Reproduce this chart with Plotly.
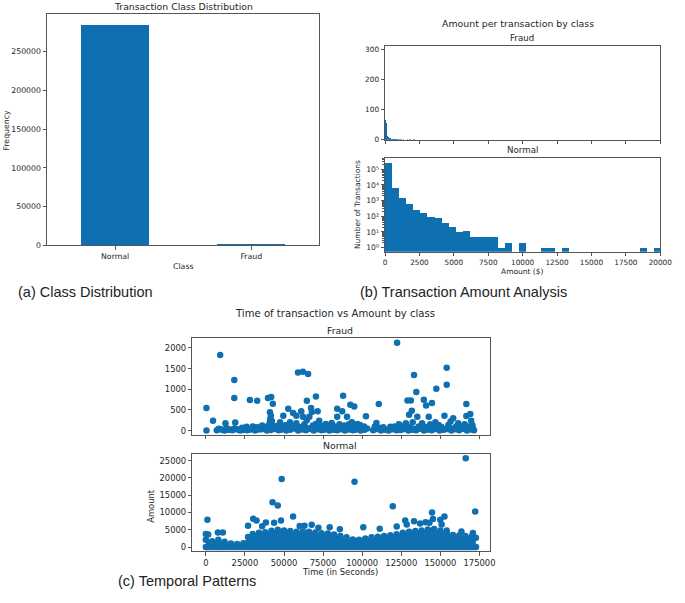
import numpy as np
import plotly.graph_objects as go

W, H = 685, 603
BLUE = "#0e6fb1"
AX = "#555555"
TXT = "#262626"
FONT = "DejaVu Sans"
CAP = "Liberation Sans"

# ---------------- data ----------------
class_labels = ["Normal", "Fraud"]
class_counts = [284315, 492]

normal_amount_max = 25691.16
fraud_amount_max = 2125.87
n_bins = 50
normal_hist_counts = [280000, 6300, 1600, 670, 250, 165, 100, 75, 36, 23,
                      11, 12, 5, 5, 5, 5, 1, 2, 0, 2,
                      0, 0, 1, 1, 0, 1, 0, 0, 0, 0,
                      0, 0, 0, 0, 0, 0, 1, 0, 1, 0,
                      0, 0, 0, 0, 0, 0, 0, 0, 0, 1]
fraud_hist_counts = [66, 58, 18, 15, 12, 10, 8, 7, 6, 5,
                     4, 4, 3, 3, 2, 2, 2, 1, 1, 1,
                     1, 0, 1, 0, 1, 0, 0, 1, 0, 0,
                     0, 1, 0, 0, 0, 0, 0, 0, 1, 0,
                     0, 0, 1, 0, 0, 0, 0, 0, 0, 1]

fraud_time = [7000, 9500, 12000, 14500, 17000, 19500, 22000, 24000, 26500, 29000, 31500, 34000, 36500,
              39000, 41500, 44000, 46500, 49000, 51500, 54000, 56500, 59000, 61500, 64000, 66500,
              69000, 71500, 74000, 76500, 79000, 81500, 84000, 86500, 89000, 91500, 94000, 96500,
              99000, 101500, 107000, 109500, 112000, 114500, 117000, 119500, 122000, 124500, 127000,
              129500, 132000, 134500, 137000, 139500, 142000, 144500, 147000, 149500, 152000, 154500,
              157000, 159500, 162000, 164500, 167000, 169500, 171500,
              8200, 10700, 13200, 15700, 18200, 20700, 23200, 25700, 28200, 30700, 33200, 35700, 38200,
              40700, 43200, 45700, 48200, 50700, 53200, 55700, 58200, 60700, 63200, 65700, 68200, 70700,
              73200, 75700, 78200, 80700, 83200, 85700, 88200, 90700, 93200, 95700, 98200, 100700, 103200,
              108200, 110700, 113200, 115700, 118200, 120700, 123200, 125700, 128200, 130700, 133200,
              135700, 138200, 140700, 143200, 145700, 148200, 150700, 153200, 155700, 158200, 160700,
              163200, 165700, 168200, 170700,
              26000, 30000, 33000, 36000, 38500,
              40300, 40800, 41200, 41600, 41000, 42200, 42800, 43300,
              45500, 47500, 49550, 48500,
              51000, 52700, 53800, 55000, 55800, 57900, 57900, 59500, 61000, 62080, 63000, 64600,
              66200, 67800, 67300, 68500, 70400, 71500, 72500, 74000, 76700, 78500, 80500, 82500,
              84000, 84000, 85500,
              87200, 88500, 90300, 91500, 93400, 95500, 97000, 98600, 101200, 102400,
              109100, 108000, 113500, 118000, 120600, 123500,
              126000, 127900, 130000, 131700, 132300, 135250, 136200, 138300, 140000, 142550, 143500, 146800,
              148800, 150500, 152600, 155100, 156500, 158200, 160000, 161400, 163000, 165500, 166600,
              167600, 169100, 169700, 170500,
              400, 400, 4580, 9160, 12540, 18190, 18190, 18800, 28200, 32800, 39700, 41800, 42840,
              58950, 62080, 65400, 64600, 70400, 87800, 92400, 94900, 110600, 122300, 128950, 131100,
              133150, 134600, 139400, 140900, 144600, 147400, 154050, 154050, 166600]
fraud_amount = [5, 30, 2, 20, 8, 35, 1, 15, 10, 45, 3, 25, 60,
                2, 15, 40, 5, 30, 1, 20, 50, 4, 25, 10, 45,
                2, 30, 8, 40, 1, 20, 6, 30, 1, 25, 10, 45,
                3, 20, 8, 35, 2, 25, 1, 30, 5, 15, 40,
                1, 20, 10, 45, 3, 25, 8, 35, 1, 20, 40,
                2, 30, 10, 45, 1, 25, 5,
                45, 12, 60, 25, 50, 18, 70, 55, 20, 80, 60, 30, 75,
                50, 85, 60, 25, 70, 40, 90, 60, 35, 80, 55, 25, 75,
                50, 20, 65, 40, 85, 55, 30, 70, 45, 20, 60, 35, 50,
                30, 65, 40, 15, 55, 35, 70, 30, 60, 85, 40,
                70, 50, 25, 75, 60, 40, 80, 30, 65, 50, 75,
                40, 60, 35, 55,
                90, 100, 80, 120, 95,
                110, 190, 280, 360, 440, 230, 120, 60,
                110, 200, 361, 90,
                130, 529, 200, 100, 425, 361, 176, 90, 465, 337, 150, 250,
                337, 449, 548, 120, 160, 465, 240, 110, 160, 90, 180, 100,
                337, 529, 150,
                465, 120, 337, 150, 200, 90, 160, 135, 100, 344,
                185, 90, 80, 90, 100, 150,
                100, 176, 385, 481, 200, 337, 100, 176, 90, 337, 150, 200,
                135, 90, 361, 135, 220, 300, 100, 176, 90, 150, 350,
                100, 400, 240, 130,
                545, 0, 240, 1827, 176, 1226, 785, 192, 737, 721, 785, 810, 649,
                1402, 1425, 1370, 721, 825, 841, 625, 584, 641, 2126, 729, 729,
                1346, 930, 745, 608, 665, 1010, 1522, 1106, 641]

# upper edge of the dense block of normal transactions (marker centres)
band_time = [0, 4000, 8000, 12000, 16000, 20000, 24000, 27000, 30000, 34000, 38000, 42000, 46000,
             50000, 54000, 58000, 62000, 66000, 70000, 74000, 78000, 82000, 86000, 90000, 94000,
             98000, 102000, 106000, 110000, 114000, 118000, 122000, 126000, 130000, 134000, 138000,
             142000, 146000, 150000, 154000, 158000, 162000, 166000, 170000, 172700]
band_amount = [2100, 1700, 2100, 1500, 1000, 900, 1100, 2900, 3800, 4100, 4300, 4700, 5000,
               4800, 4600, 4400, 4500, 4400, 4200, 4000, 3900, 3600, 3200, 2800, 2200,
               2100, 2500, 2800, 3000, 3200, 3400, 3700, 4100, 4400, 4600, 4800,
               5100, 5200, 4800, 4100, 3500, 3300, 3200, 3100, 2700]
normal_time = [0, 172792, 0, 1500, 1000, 7700, 10850, 27000, 30300, 32400, 38450, 42650, 43650,
               46000, 48050, 48500, 55800, 63100, 67700, 79200, 85700, 95100, 100700, 111200,
               119550, 122050, 127500, 133150, 140500, 144650, 145250, 149900, 152600, 154050,
               163450, 166200, 170800, 172250, 36000, 60000, 72000, 128500, 137000, 143000, 150800]
normal_amount = [0, 0, 3800, 3600, 7870, 4210, 4210, 6150, 8160, 7670, 7100, 12930, 7000,
                 11980, 7670, 19650, 8820, 6150, 6430, 5750, 5170, 18880, 5750, 5270,
                 11780, 5940, 7670, 7480, 7190, 9970, 8140, 7870, 8820, 4790,
                 4500, 25690, 4020, 10260, 6000, 6100, 5600, 6500, 6800, 7000, 6500]

amount_ticks = [0, 2500, 5000, 7500, 10000, 12500, 15000, 17500, 20000]
time_ticks = [0, 25000, 50000, 75000, 100000, 125000, 150000, 175000]
log_ticks = [1, 10, 100, 1000, 10000, 100000]
log_tick_text = ["10⁰", "10¹", "10²", "10³", "10⁴", "10⁵"]

# ---------------- helpers ----------------
def px(x):
    return x / W

def py(y):
    return 1 - y / H

def dom_x(a, b):
    return [px(a), px(b)]

def dom_y(top, bottom):
    return [py(bottom), py(top)]

def axis(dom, anchor, size, **kw):
    d = dict(domain=dom, anchor=anchor, showline=True, mirror=True, linecolor=AX, linewidth=1,
             ticks="outside", ticklen=3.5, tickwidth=1, tickcolor=AX, showgrid=False,
             zeroline=False, tickfont=dict(family=FONT, size=size, color=TXT))
    d.update(kw)
    return d

fig = go.Figure()

# (a) class distribution
fig.add_trace(go.Bar(x=class_labels, y=class_counts, width=0.5, marker=dict(color=BLUE, line=dict(width=0)),
                     xaxis="x", yaxis="y"))

# (b) histograms
fe = np.linspace(0, fraud_amount_max, n_bins + 1)
fw = fe[1] - fe[0]
fc = [(c if c > 0 else None) for c in fraud_hist_counts]
fig.add_trace(go.Bar(x=fe[:-1] + fw / 2, y=fc, width=fw, marker=dict(color=BLUE, line=dict(width=0)),
                     xaxis="x2", yaxis="y2"))
ne = np.linspace(0, normal_amount_max, n_bins + 1)
nw = ne[1] - ne[0]
nc = [(c if c > 0 else None) for c in normal_hist_counts]
fig.add_trace(go.Bar(x=ne[:-1] + nw / 2, y=nc, width=nw, marker=dict(color=BLUE, line=dict(width=0)),
                     xaxis="x3", yaxis="y3"))

# (c) scatter
MS = 6.5
fig.add_trace(go.Scatter(x=fraud_time, y=fraud_amount, mode="markers",
                         marker=dict(color=BLUE, size=MS, line=dict(width=0)), xaxis="x4", yaxis="y4"))

y5_range = [-1285, 26976]
c_norm_top, c_norm_bottom = 457.3, 556.0
floor = -(MS / 2) * (y5_range[1] - y5_range[0]) / (c_norm_bottom - c_norm_top)
poly_x = band_time + band_time[::-1]
poly_y = band_amount + [floor] * len(band_time)
fig.add_trace(go.Scatter(x=poly_x, y=poly_y, mode="lines", fill="toself", fillcolor=BLUE,
                         line=dict(width=0, color=BLUE), xaxis="x5", yaxis="y5", hoverinfo="skip"))
fig.add_trace(go.Scatter(x=band_time, y=band_amount, mode="markers",
                         marker=dict(color=BLUE, size=MS, line=dict(width=0)), xaxis="x5", yaxis="y5"))
fig.add_trace(go.Scatter(x=normal_time, y=normal_amount, mode="markers",
                         marker=dict(color=BLUE, size=MS, line=dict(width=0)), xaxis="x5", yaxis="y5"))

minor_log = [m * 10 ** e for e in range(0, 6) for m in range(2, 10)]

fig.update_layout(
    width=W, height=H, margin=dict(l=0, r=0, t=0, b=0),
    paper_bgcolor="white", plot_bgcolor="white", showlegend=False, bargap=0,
    xaxis=axis(dom_x(46, 324), "y", 7.8, type="category", range=[-0.5, 1.5]),
    yaxis=axis(dom_y(13.3, 246.7), "x", 7.8, range=[0, 298530], tickmode="array",
               tickvals=[0, 50000, 100000, 150000, 200000, 250000],
               ticktext=["0", "50000", "100000", "150000", "200000", "250000"]),
    xaxis2=axis(dom_x(391, 672), "y2", 7.3, range=[0, 20000], tickmode="array", tickvals=amount_ticks,
                showticklabels=False),
    yaxis2=axis(dom_y(45, 140), "x2", 7.3, range=[0, 312], tickmode="array", tickvals=[0, 100, 200, 300],
                ticktext=["0", "100", "200", "300"]),
    xaxis3=axis(dom_x(391, 672), "y3", 7.3, range=[0, 20000], tickmode="array", tickvals=amount_ticks,
                ticktext=[str(t) for t in amount_ticks]),
    yaxis3=axis(dom_y(158.3, 253.3), "x3", 7.6, type="log", range=[-0.27, 5.74], tickmode="array",
                tickvals=log_ticks, ticktext=log_tick_text,
                minor=dict(tickvals=minor_log, ticks="outside", ticklen=2, tickcolor=AX)),
    xaxis4=axis(dom_x(194.3, 497.7), "y4", 8.4, range=[-8640, 181432], tickmode="array", tickvals=time_ticks,
                showticklabels=False),
    yaxis4=axis(dom_y(340.7, 438.3), "x4", 8.4, range=[-106, 2232], tickmode="array",
                tickvals=[0, 500, 1000, 1500, 2000], ticktext=["0", "500", "1000", "1500", "2000"]),
    xaxis5=axis(dom_x(194.3, 497.7), "y5", 8.4, range=[-8640, 181432], tickmode="array", tickvals=time_ticks,
                ticktext=[str(t) for t in time_ticks]),
    yaxis5=axis(dom_y(c_norm_top, c_norm_bottom), "x5", 8.4, range=y5_range, tickmode="array",
                tickvals=[0, 5000, 10000, 15000, 20000, 25000],
                ticktext=["0", "5000", "10000", "15000", "20000", "25000"]),
)

def note(text, x, y, size, family=FONT, angle=0, xanchor="center", color=TXT):
    fig.add_annotation(text=text, x=px(x), y=py(y), xref="paper", yref="paper", showarrow=False,
                       xanchor=xanchor, yanchor="middle", textangle=angle,
                       font=dict(family=family, size=size, color=color))

# panel (a) texts
note("Transaction Class Distribution", 185, 5.5, 9.3)
note("Class", 185, 268.5, 7.8)
note("Frequency", 5, 130, 7.8, angle=-90)
note("(a) Class Distribution", 14, 293.5, 14.5, family=CAP, xanchor="left", color="#222")

# panel (b) texts
note("Amount per transaction by class", 527, 22.7, 9.4)
note("Fraud", 531, 37.7, 8.7)
note("Normal", 531, 150.7, 8.7)
note("Amount ($)", 531, 273.3, 7.5)
note("Number of Transactions", 363.5, 206, 7.5, angle=-90)
note("(b) Transaction Amount Analysis", 363, 294, 14.5, family=CAP, xanchor="left", color="#222")

# panel (c) texts
note("Time of transaction vs Amount by class", 340, 316, 10.1)
note("Fraud", 345, 332.7, 9.3)
note("Normal", 345, 449.3, 9.3)
note("Time (in Seconds)", 345, 576.7, 8.4)
note("Amount", 152, 510, 8.4, angle=-90)
note("(c) Temporal Patterns", 116.5, 585.5, 14.5, family=CAP, xanchor="left", color="#222")

fig.write_html("out.html")
